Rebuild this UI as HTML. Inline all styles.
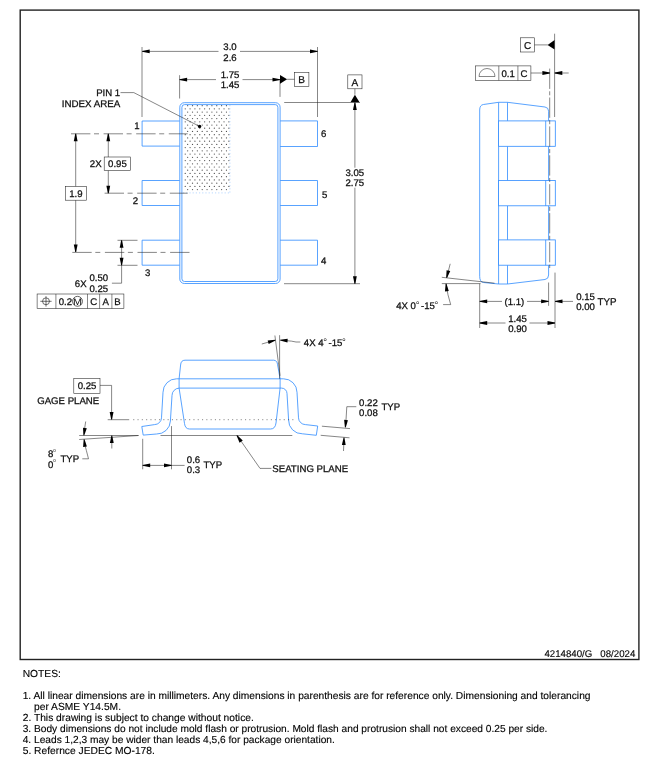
<!DOCTYPE html>
<html><head><meta charset="utf-8"><title>Package outline</title>
<style>html,body{margin:0;padding:0;background:#fff}svg{display:block;will-change:transform}text{font-family:"Liberation Sans", Arial, sans-serif;fill:#111;stroke:#111;stroke-width:0.27px;text-rendering:geometricPrecision}text.n{fill:#000;stroke:#000;stroke-width:0.12px}</style>
</head><body>
<svg width="650" height="768" viewBox="0 0 650 768">
<rect x="0" y="0" width="650" height="768" fill="#fff"/>
<rect x="20.20" y="10.10" width="618.70" height="649.40" rx="0" stroke="#222" stroke-width="1.4" fill="none"/>
<g fill="#505050"><circle cx="187.66" cy="105.63" r="0.62"/><circle cx="192.51" cy="105.63" r="0.62"/><circle cx="197.36" cy="105.63" r="0.62"/><circle cx="202.21" cy="105.63" r="0.62"/><circle cx="207.06" cy="105.63" r="0.62"/><circle cx="211.91" cy="105.63" r="0.62"/><circle cx="216.76" cy="105.63" r="0.62"/><circle cx="221.61" cy="105.63" r="0.62"/><circle cx="226.46" cy="105.63" r="0.62"/><circle cx="185.23" cy="108.86" r="0.62"/><circle cx="190.08" cy="108.86" r="0.62"/><circle cx="194.93" cy="108.86" r="0.62"/><circle cx="199.78" cy="108.86" r="0.62"/><circle cx="204.63" cy="108.86" r="0.62"/><circle cx="209.48" cy="108.86" r="0.62"/><circle cx="214.33" cy="108.86" r="0.62"/><circle cx="219.18" cy="108.86" r="0.62"/><circle cx="224.03" cy="108.86" r="0.62"/><circle cx="228.88" cy="108.86" r="0.62"/><circle cx="187.66" cy="112.09" r="0.62"/><circle cx="192.51" cy="112.09" r="0.62"/><circle cx="197.36" cy="112.09" r="0.62"/><circle cx="202.21" cy="112.09" r="0.62"/><circle cx="207.06" cy="112.09" r="0.62"/><circle cx="211.91" cy="112.09" r="0.62"/><circle cx="216.76" cy="112.09" r="0.62"/><circle cx="221.61" cy="112.09" r="0.62"/><circle cx="226.46" cy="112.09" r="0.62"/><circle cx="185.23" cy="115.32" r="0.62"/><circle cx="190.08" cy="115.32" r="0.62"/><circle cx="194.93" cy="115.32" r="0.62"/><circle cx="199.78" cy="115.32" r="0.62"/><circle cx="204.63" cy="115.32" r="0.62"/><circle cx="209.48" cy="115.32" r="0.62"/><circle cx="214.33" cy="115.32" r="0.62"/><circle cx="219.18" cy="115.32" r="0.62"/><circle cx="224.03" cy="115.32" r="0.62"/><circle cx="228.88" cy="115.32" r="0.62"/><circle cx="187.66" cy="118.55" r="0.62"/><circle cx="192.51" cy="118.55" r="0.62"/><circle cx="197.36" cy="118.55" r="0.62"/><circle cx="202.21" cy="118.55" r="0.62"/><circle cx="207.06" cy="118.55" r="0.62"/><circle cx="211.91" cy="118.55" r="0.62"/><circle cx="216.76" cy="118.55" r="0.62"/><circle cx="221.61" cy="118.55" r="0.62"/><circle cx="226.46" cy="118.55" r="0.62"/><circle cx="185.23" cy="121.78" r="0.62"/><circle cx="190.08" cy="121.78" r="0.62"/><circle cx="194.93" cy="121.78" r="0.62"/><circle cx="199.78" cy="121.78" r="0.62"/><circle cx="204.63" cy="121.78" r="0.62"/><circle cx="209.48" cy="121.78" r="0.62"/><circle cx="214.33" cy="121.78" r="0.62"/><circle cx="219.18" cy="121.78" r="0.62"/><circle cx="224.03" cy="121.78" r="0.62"/><circle cx="228.88" cy="121.78" r="0.62"/><circle cx="187.66" cy="125.01" r="0.62"/><circle cx="192.51" cy="125.01" r="0.62"/><circle cx="197.36" cy="125.01" r="0.62"/><circle cx="202.21" cy="125.01" r="0.62"/><circle cx="207.06" cy="125.01" r="0.62"/><circle cx="211.91" cy="125.01" r="0.62"/><circle cx="216.76" cy="125.01" r="0.62"/><circle cx="221.61" cy="125.01" r="0.62"/><circle cx="226.46" cy="125.01" r="0.62"/><circle cx="185.23" cy="128.24" r="0.62"/><circle cx="190.08" cy="128.24" r="0.62"/><circle cx="194.93" cy="128.24" r="0.62"/><circle cx="199.78" cy="128.24" r="0.62"/><circle cx="204.63" cy="128.24" r="0.62"/><circle cx="209.48" cy="128.24" r="0.62"/><circle cx="214.33" cy="128.24" r="0.62"/><circle cx="219.18" cy="128.24" r="0.62"/><circle cx="224.03" cy="128.24" r="0.62"/><circle cx="228.88" cy="128.24" r="0.62"/><circle cx="187.66" cy="131.47" r="0.62"/><circle cx="192.51" cy="131.47" r="0.62"/><circle cx="197.36" cy="131.47" r="0.62"/><circle cx="202.21" cy="131.47" r="0.62"/><circle cx="207.06" cy="131.47" r="0.62"/><circle cx="211.91" cy="131.47" r="0.62"/><circle cx="216.76" cy="131.47" r="0.62"/><circle cx="221.61" cy="131.47" r="0.62"/><circle cx="226.46" cy="131.47" r="0.62"/><circle cx="185.23" cy="134.70" r="0.62"/><circle cx="190.08" cy="134.70" r="0.62"/><circle cx="194.93" cy="134.70" r="0.62"/><circle cx="199.78" cy="134.70" r="0.62"/><circle cx="204.63" cy="134.70" r="0.62"/><circle cx="209.48" cy="134.70" r="0.62"/><circle cx="214.33" cy="134.70" r="0.62"/><circle cx="219.18" cy="134.70" r="0.62"/><circle cx="224.03" cy="134.70" r="0.62"/><circle cx="228.88" cy="134.70" r="0.62"/><circle cx="187.66" cy="137.93" r="0.62"/><circle cx="192.51" cy="137.93" r="0.62"/><circle cx="197.36" cy="137.93" r="0.62"/><circle cx="202.21" cy="137.93" r="0.62"/><circle cx="207.06" cy="137.93" r="0.62"/><circle cx="211.91" cy="137.93" r="0.62"/><circle cx="216.76" cy="137.93" r="0.62"/><circle cx="221.61" cy="137.93" r="0.62"/><circle cx="226.46" cy="137.93" r="0.62"/><circle cx="185.23" cy="141.16" r="0.62"/><circle cx="190.08" cy="141.16" r="0.62"/><circle cx="194.93" cy="141.16" r="0.62"/><circle cx="199.78" cy="141.16" r="0.62"/><circle cx="204.63" cy="141.16" r="0.62"/><circle cx="209.48" cy="141.16" r="0.62"/><circle cx="214.33" cy="141.16" r="0.62"/><circle cx="219.18" cy="141.16" r="0.62"/><circle cx="224.03" cy="141.16" r="0.62"/><circle cx="228.88" cy="141.16" r="0.62"/><circle cx="187.66" cy="144.39" r="0.62"/><circle cx="192.51" cy="144.39" r="0.62"/><circle cx="197.36" cy="144.39" r="0.62"/><circle cx="202.21" cy="144.39" r="0.62"/><circle cx="207.06" cy="144.39" r="0.62"/><circle cx="211.91" cy="144.39" r="0.62"/><circle cx="216.76" cy="144.39" r="0.62"/><circle cx="221.61" cy="144.39" r="0.62"/><circle cx="226.46" cy="144.39" r="0.62"/><circle cx="185.23" cy="147.62" r="0.62"/><circle cx="190.08" cy="147.62" r="0.62"/><circle cx="194.93" cy="147.62" r="0.62"/><circle cx="199.78" cy="147.62" r="0.62"/><circle cx="204.63" cy="147.62" r="0.62"/><circle cx="209.48" cy="147.62" r="0.62"/><circle cx="214.33" cy="147.62" r="0.62"/><circle cx="219.18" cy="147.62" r="0.62"/><circle cx="224.03" cy="147.62" r="0.62"/><circle cx="228.88" cy="147.62" r="0.62"/><circle cx="187.66" cy="150.85" r="0.62"/><circle cx="192.51" cy="150.85" r="0.62"/><circle cx="197.36" cy="150.85" r="0.62"/><circle cx="202.21" cy="150.85" r="0.62"/><circle cx="207.06" cy="150.85" r="0.62"/><circle cx="211.91" cy="150.85" r="0.62"/><circle cx="216.76" cy="150.85" r="0.62"/><circle cx="221.61" cy="150.85" r="0.62"/><circle cx="226.46" cy="150.85" r="0.62"/><circle cx="185.23" cy="154.08" r="0.62"/><circle cx="190.08" cy="154.08" r="0.62"/><circle cx="194.93" cy="154.08" r="0.62"/><circle cx="199.78" cy="154.08" r="0.62"/><circle cx="204.63" cy="154.08" r="0.62"/><circle cx="209.48" cy="154.08" r="0.62"/><circle cx="214.33" cy="154.08" r="0.62"/><circle cx="219.18" cy="154.08" r="0.62"/><circle cx="224.03" cy="154.08" r="0.62"/><circle cx="228.88" cy="154.08" r="0.62"/><circle cx="187.66" cy="157.31" r="0.62"/><circle cx="192.51" cy="157.31" r="0.62"/><circle cx="197.36" cy="157.31" r="0.62"/><circle cx="202.21" cy="157.31" r="0.62"/><circle cx="207.06" cy="157.31" r="0.62"/><circle cx="211.91" cy="157.31" r="0.62"/><circle cx="216.76" cy="157.31" r="0.62"/><circle cx="221.61" cy="157.31" r="0.62"/><circle cx="226.46" cy="157.31" r="0.62"/><circle cx="185.23" cy="160.54" r="0.62"/><circle cx="190.08" cy="160.54" r="0.62"/><circle cx="194.93" cy="160.54" r="0.62"/><circle cx="199.78" cy="160.54" r="0.62"/><circle cx="204.63" cy="160.54" r="0.62"/><circle cx="209.48" cy="160.54" r="0.62"/><circle cx="214.33" cy="160.54" r="0.62"/><circle cx="219.18" cy="160.54" r="0.62"/><circle cx="224.03" cy="160.54" r="0.62"/><circle cx="228.88" cy="160.54" r="0.62"/><circle cx="187.66" cy="163.77" r="0.62"/><circle cx="192.51" cy="163.77" r="0.62"/><circle cx="197.36" cy="163.77" r="0.62"/><circle cx="202.21" cy="163.77" r="0.62"/><circle cx="207.06" cy="163.77" r="0.62"/><circle cx="211.91" cy="163.77" r="0.62"/><circle cx="216.76" cy="163.77" r="0.62"/><circle cx="221.61" cy="163.77" r="0.62"/><circle cx="226.46" cy="163.77" r="0.62"/><circle cx="185.23" cy="167.00" r="0.62"/><circle cx="190.08" cy="167.00" r="0.62"/><circle cx="194.93" cy="167.00" r="0.62"/><circle cx="199.78" cy="167.00" r="0.62"/><circle cx="204.63" cy="167.00" r="0.62"/><circle cx="209.48" cy="167.00" r="0.62"/><circle cx="214.33" cy="167.00" r="0.62"/><circle cx="219.18" cy="167.00" r="0.62"/><circle cx="224.03" cy="167.00" r="0.62"/><circle cx="228.88" cy="167.00" r="0.62"/><circle cx="187.66" cy="170.23" r="0.62"/><circle cx="192.51" cy="170.23" r="0.62"/><circle cx="197.36" cy="170.23" r="0.62"/><circle cx="202.21" cy="170.23" r="0.62"/><circle cx="207.06" cy="170.23" r="0.62"/><circle cx="211.91" cy="170.23" r="0.62"/><circle cx="216.76" cy="170.23" r="0.62"/><circle cx="221.61" cy="170.23" r="0.62"/><circle cx="226.46" cy="170.23" r="0.62"/><circle cx="185.23" cy="173.46" r="0.62"/><circle cx="190.08" cy="173.46" r="0.62"/><circle cx="194.93" cy="173.46" r="0.62"/><circle cx="199.78" cy="173.46" r="0.62"/><circle cx="204.63" cy="173.46" r="0.62"/><circle cx="209.48" cy="173.46" r="0.62"/><circle cx="214.33" cy="173.46" r="0.62"/><circle cx="219.18" cy="173.46" r="0.62"/><circle cx="224.03" cy="173.46" r="0.62"/><circle cx="228.88" cy="173.46" r="0.62"/><circle cx="187.66" cy="176.69" r="0.62"/><circle cx="192.51" cy="176.69" r="0.62"/><circle cx="197.36" cy="176.69" r="0.62"/><circle cx="202.21" cy="176.69" r="0.62"/><circle cx="207.06" cy="176.69" r="0.62"/><circle cx="211.91" cy="176.69" r="0.62"/><circle cx="216.76" cy="176.69" r="0.62"/><circle cx="221.61" cy="176.69" r="0.62"/><circle cx="226.46" cy="176.69" r="0.62"/><circle cx="185.23" cy="179.92" r="0.62"/><circle cx="190.08" cy="179.92" r="0.62"/><circle cx="194.93" cy="179.92" r="0.62"/><circle cx="199.78" cy="179.92" r="0.62"/><circle cx="204.63" cy="179.92" r="0.62"/><circle cx="209.48" cy="179.92" r="0.62"/><circle cx="214.33" cy="179.92" r="0.62"/><circle cx="219.18" cy="179.92" r="0.62"/><circle cx="224.03" cy="179.92" r="0.62"/><circle cx="228.88" cy="179.92" r="0.62"/><circle cx="187.66" cy="183.15" r="0.62"/><circle cx="192.51" cy="183.15" r="0.62"/><circle cx="197.36" cy="183.15" r="0.62"/><circle cx="202.21" cy="183.15" r="0.62"/><circle cx="207.06" cy="183.15" r="0.62"/><circle cx="211.91" cy="183.15" r="0.62"/><circle cx="216.76" cy="183.15" r="0.62"/><circle cx="221.61" cy="183.15" r="0.62"/><circle cx="226.46" cy="183.15" r="0.62"/><circle cx="185.23" cy="186.38" r="0.62"/><circle cx="190.08" cy="186.38" r="0.62"/><circle cx="194.93" cy="186.38" r="0.62"/><circle cx="199.78" cy="186.38" r="0.62"/><circle cx="204.63" cy="186.38" r="0.62"/><circle cx="209.48" cy="186.38" r="0.62"/><circle cx="214.33" cy="186.38" r="0.62"/><circle cx="219.18" cy="186.38" r="0.62"/><circle cx="224.03" cy="186.38" r="0.62"/><circle cx="228.88" cy="186.38" r="0.62"/><circle cx="187.66" cy="189.61" r="0.62"/><circle cx="192.51" cy="189.61" r="0.62"/><circle cx="197.36" cy="189.61" r="0.62"/><circle cx="202.21" cy="189.61" r="0.62"/><circle cx="207.06" cy="189.61" r="0.62"/><circle cx="211.91" cy="189.61" r="0.62"/><circle cx="216.76" cy="189.61" r="0.62"/><circle cx="221.61" cy="189.61" r="0.62"/><circle cx="226.46" cy="189.61" r="0.62"/></g>
<line x1="229.90" y1="105.00" x2="229.90" y2="193.00" stroke="#9cc8ff" stroke-width="0.7" stroke-dasharray="1.2 2"/>
<line x1="183.00" y1="192.90" x2="229.90" y2="192.90" stroke="#9cc8ff" stroke-width="0.7" stroke-dasharray="1.2 2"/>
<path d="M179.6,121.0 L142.1,121.0 L142.1,146.1 L179.6,146.1" stroke="#2e8bff" stroke-width="0.8" fill="none" />
<path d="M179.6,180.5 L142.1,180.5 L142.1,205.5 L179.6,205.5" stroke="#2e8bff" stroke-width="0.8" fill="none" />
<path d="M179.6,240.2 L142.1,240.2 L142.1,265.2 L179.6,265.2" stroke="#2e8bff" stroke-width="0.8" fill="none" />
<path d="M280.2,120.9 L317.5,120.9 L317.5,146.5 L280.2,146.5" stroke="#2e8bff" stroke-width="0.8" fill="none" />
<path d="M280.2,180.5 L317.5,180.5 L317.5,205.5 L280.2,205.5" stroke="#2e8bff" stroke-width="0.8" fill="none" />
<path d="M280.2,240.2 L317.5,240.2 L317.5,265.2 L280.2,265.2" stroke="#2e8bff" stroke-width="0.8" fill="none" />
<rect x="179.80" y="102.70" width="100.30" height="180.80" rx="4.5" stroke="#2e8bff" stroke-width="0.8" fill="none"/>
<rect x="181.90" y="104.60" width="96.00" height="176.90" rx="2.7" stroke="#2e8bff" stroke-width="0.8" fill="none"/>
<line x1="142.00" y1="47.00" x2="142.00" y2="117.00" stroke="#222" stroke-width="0.55" />
<line x1="317.50" y1="47.00" x2="317.50" y2="117.00" stroke="#222" stroke-width="0.55" />
<line x1="142.20" y1="51.40" x2="218.50" y2="51.40" stroke="#222" stroke-width="0.55" />
<line x1="240.00" y1="51.40" x2="317.80" y2="51.40" stroke="#222" stroke-width="0.55" />
<polygon points="142.20,50.98 149.70,49.50 149.70,53.30 142.20,51.82" fill="#000"/>
<polygon points="317.50,51.82 310.00,53.30 310.00,49.50 317.50,50.98" fill="#000"/>
<text x="230.00" y="49.90" font-size="9.6" text-anchor="middle" >3.0</text>
<text x="230.00" y="60.70" font-size="9.6" text-anchor="middle" >2.6</text>
<line x1="179.60" y1="75.20" x2="179.60" y2="98.50" stroke="#222" stroke-width="0.55" />
<line x1="280.00" y1="80.00" x2="280.00" y2="96.90" stroke="#222" stroke-width="0.55" />
<line x1="179.60" y1="79.60" x2="216.00" y2="79.60" stroke="#222" stroke-width="0.55" />
<line x1="242.50" y1="79.60" x2="280.00" y2="79.60" stroke="#222" stroke-width="0.55" />
<polygon points="179.60,79.18 187.10,77.70 187.10,81.50 179.60,80.02" fill="#000"/>
<polygon points="280.00,80.02 272.50,81.50 272.50,77.70 280.00,79.18" fill="#000"/>
<polygon points="280.00,74.90 280.00,83.70 287.10,79.30" fill="#000"/>
<line x1="287.10" y1="79.30" x2="294.50" y2="79.30" stroke="#222" stroke-width="0.55" />
<rect x="294.50" y="72.40" width="14.40" height="14.30" rx="0" stroke="#222" stroke-width="0.55" fill="none"/>
<text x="301.70" y="83.10" font-size="10" text-anchor="middle" >B</text>
<text x="230.00" y="77.60" font-size="9.6" text-anchor="middle" >1.75</text>
<text x="230.00" y="87.80" font-size="9.6" text-anchor="middle" >1.45</text>
<rect x="347.80" y="74.90" width="14.20" height="13.90" rx="0" stroke="#222" stroke-width="0.55" fill="none"/>
<text x="354.90" y="85.50" font-size="10" text-anchor="middle" >A</text>
<line x1="354.90" y1="88.80" x2="354.90" y2="94.70" stroke="#222" stroke-width="0.55" />
<polygon points="354.90,94.70 350.50,102.30 359.50,102.30" fill="#000"/>
<line x1="284.20" y1="102.50" x2="360.00" y2="102.50" stroke="#222" stroke-width="0.55" />
<line x1="284.00" y1="283.70" x2="360.00" y2="283.70" stroke="#222" stroke-width="0.55" />
<line x1="354.90" y1="102.60" x2="354.90" y2="167.70" stroke="#222" stroke-width="0.55" />
<line x1="354.90" y1="187.70" x2="354.90" y2="283.70" stroke="#222" stroke-width="0.55" />
<polygon points="355.32,102.60 356.80,110.10 353.00,110.10 354.48,102.60" fill="#000"/>
<polygon points="354.48,283.70 353.00,276.20 356.80,276.20 355.32,283.70" fill="#000"/>
<text x="354.80" y="176.00" font-size="9.6" text-anchor="middle" >3.05</text>
<text x="354.80" y="186.20" font-size="9.6" text-anchor="middle" >2.75</text>
<text x="137.00" y="129.00" font-size="9.6" text-anchor="middle" >1</text>
<text x="135.40" y="204.40" font-size="9.6" text-anchor="middle" >2</text>
<text x="147.70" y="276.40" font-size="9.6" text-anchor="middle" >3</text>
<text x="323.70" y="137.20" font-size="9.6" text-anchor="middle" >6</text>
<text x="324.60" y="197.90" font-size="9.6" text-anchor="middle" >5</text>
<text x="323.70" y="264.40" font-size="9.6" text-anchor="middle" >4</text>
<text x="120.20" y="95.50" font-size="9.6" text-anchor="end" >PIN 1</text>
<text x="120.30" y="106.80" font-size="9.6" text-anchor="end"  textLength="58.6" lengthAdjust="spacingAndGlyphs">INDEX AREA</text>
<path d="M120.5,92.6 L133.8,92.6 L199.5,126.4" stroke="#222" stroke-width="0.55" fill="none" />
<circle cx="199.6" cy="126.4" r="1.7" fill="#000"/>
<line x1="71.00" y1="133.80" x2="187.70" y2="133.80" stroke="#222" stroke-width="0.55" stroke-dasharray="19.4 3.6 5 4.6"/>
<line x1="104.60" y1="193.20" x2="187.70" y2="193.20" stroke="#222" stroke-width="0.55" stroke-dasharray="19.4 3.6 5 4.6"/>
<line x1="72.30" y1="252.40" x2="190.00" y2="252.40" stroke="#222" stroke-width="0.55" stroke-dasharray="19.4 3.6 5 4.6"/>
<line x1="75.70" y1="133.80" x2="75.70" y2="186.30" stroke="#222" stroke-width="0.55" />
<line x1="75.70" y1="200.20" x2="75.70" y2="252.00" stroke="#222" stroke-width="0.55" />
<polygon points="76.12,133.80 77.60,141.30 73.80,141.30 75.28,133.80" fill="#000"/>
<polygon points="75.28,252.00 73.80,244.50 77.60,244.50 76.12,252.00" fill="#000"/>
<rect x="65.40" y="186.30" width="21.10" height="13.90" rx="0" stroke="#222" stroke-width="0.55" fill="none"/>
<text x="75.90" y="196.90" font-size="9.6" text-anchor="middle" >1.9</text>
<line x1="108.30" y1="133.80" x2="108.30" y2="157.00" stroke="#222" stroke-width="0.55" />
<line x1="108.30" y1="170.60" x2="108.30" y2="193.20" stroke="#222" stroke-width="0.55" />
<polygon points="108.72,133.80 110.20,141.30 106.40,141.30 107.88,133.80" fill="#000"/>
<polygon points="107.88,193.20 106.40,185.70 110.20,185.70 108.72,193.20" fill="#000"/>
<rect x="104.20" y="157.00" width="26.40" height="13.60" rx="0" stroke="#222" stroke-width="0.55" fill="none"/>
<text x="117.40" y="167.20" font-size="9.6" text-anchor="middle" >0.95</text>
<text x="95.70" y="167.40" font-size="9.6" text-anchor="middle" >2X</text>
<line x1="117.50" y1="240.30" x2="137.50" y2="240.30" stroke="#222" stroke-width="0.55" />
<line x1="117.50" y1="265.30" x2="137.50" y2="265.30" stroke="#222" stroke-width="0.55" />
<path d="M121.6,240.3 L121.6,283.2 L111.9,283.2" stroke="#222" stroke-width="0.55" fill="none" />
<polygon points="122.02,240.30 123.50,247.80 119.70,247.80 121.18,240.30" fill="#000"/>
<polygon points="121.18,265.30 119.70,257.80 123.50,257.80 122.02,265.30" fill="#000"/>
<text x="80.70" y="287.00" font-size="9.6" text-anchor="middle" >6X</text>
<text x="98.80" y="281.40" font-size="9.6" text-anchor="middle" >0.50</text>
<text x="98.80" y="291.90" font-size="9.6" text-anchor="middle" >0.25</text>
<rect x="37.10" y="294.00" width="86.80" height="14.60" rx="0" stroke="#222" stroke-width="0.55" fill="none"/>
<line x1="55.90" y1="294.00" x2="55.90" y2="308.60" stroke="#222" stroke-width="0.55" />
<line x1="87.50" y1="294.00" x2="87.50" y2="308.60" stroke="#222" stroke-width="0.55" />
<line x1="99.60" y1="294.00" x2="99.60" y2="308.60" stroke="#222" stroke-width="0.55" />
<line x1="111.90" y1="294.00" x2="111.90" y2="308.60" stroke="#222" stroke-width="0.55" />
<circle cx="46.0" cy="301.3" r="3.45" fill="none" stroke="#222" stroke-width="0.65"/>
<line x1="40.30" y1="301.30" x2="51.60" y2="301.30" stroke="#222" stroke-width="0.65" />
<line x1="46.00" y1="296.20" x2="46.00" y2="306.60" stroke="#222" stroke-width="0.65" />
<text x="65.30" y="304.70" font-size="9.6" text-anchor="middle" >0.2</text>
<circle cx="77.5" cy="301.3" r="4.95" fill="none" stroke="#222" stroke-width="0.7"/>
<text x="77.50" y="304.60" font-size="9.4" text-anchor="middle" style="stroke:none" textLength="9.0" lengthAdjust="spacingAndGlyphs">M</text>
<text x="93.70" y="304.70" font-size="9.6" text-anchor="middle" >C</text>
<text x="105.60" y="304.70" font-size="9.6" text-anchor="middle" >A</text>
<text x="117.50" y="304.70" font-size="9.6" text-anchor="middle" >B</text>
<path d="M479.7,276.3 L479.7,110 Q479.7,105 483.4,104.5 L498.6,102.3 L507.5,102.3 L545,107 Q548.6,107.5 548.6,111.2 L548.6,275 Q548.6,279 545,279.5 L507.5,284 L498.6,284 L483.4,282.5 Q479.7,282 479.7,276.3 Z" stroke="#2e8bff" stroke-width="0.8" fill="none" />
<line x1="498.60" y1="102.30" x2="498.60" y2="284.00" stroke="#2e8bff" stroke-width="0.8" />
<line x1="507.50" y1="102.30" x2="507.50" y2="120.90" stroke="#2e8bff" stroke-width="0.8" />
<line x1="507.50" y1="146.30" x2="507.50" y2="180.50" stroke="#2e8bff" stroke-width="0.8" />
<line x1="507.50" y1="205.80" x2="507.50" y2="239.90" stroke="#2e8bff" stroke-width="0.8" />
<line x1="507.50" y1="265.20" x2="507.50" y2="284.00" stroke="#2e8bff" stroke-width="0.8" />
<rect x="498.60" y="120.90" width="56.70" height="25.40" rx="0" stroke="#2e8bff" stroke-width="0.8" fill="#fff"/>
<line x1="545.70" y1="120.90" x2="545.70" y2="146.30" stroke="#2e8bff" stroke-width="0.8" />
<rect x="498.60" y="180.50" width="56.70" height="25.30" rx="0" stroke="#2e8bff" stroke-width="0.8" fill="#fff"/>
<line x1="545.70" y1="180.50" x2="545.70" y2="205.80" stroke="#2e8bff" stroke-width="0.8" />
<rect x="498.60" y="239.90" width="56.70" height="25.30" rx="0" stroke="#2e8bff" stroke-width="0.8" fill="#fff"/>
<line x1="545.70" y1="239.90" x2="545.70" y2="265.20" stroke="#2e8bff" stroke-width="0.8" />
<rect x="520.60" y="37.80" width="13.90" height="14.20" rx="0" stroke="#222" stroke-width="0.55" fill="none"/>
<text x="527.60" y="48.50" font-size="10" text-anchor="middle" >C</text>
<line x1="534.50" y1="44.90" x2="547.80" y2="44.90" stroke="#222" stroke-width="0.55" />
<polygon points="547.60,44.90 554.60,40.00 554.60,49.40" fill="#000"/>
<line x1="554.60" y1="33.70" x2="554.60" y2="117.00" stroke="#222" stroke-width="0.55" />
<line x1="549.70" y1="68.60" x2="549.70" y2="268.00" stroke="#222" stroke-width="0.55" stroke-dasharray="20.3 2.4 4 2.2"/>
<rect x="475.60" y="65.90" width="55.30" height="14.50" rx="0" stroke="#222" stroke-width="0.55" fill="none"/>
<line x1="498.80" y1="65.90" x2="498.80" y2="80.40" stroke="#222" stroke-width="0.55" />
<line x1="517.90" y1="65.90" x2="517.90" y2="80.40" stroke="#222" stroke-width="0.55" />
<path d="M479,76.5 A8,8 0 0 1 495,76.5 Z" stroke="#222" stroke-width="0.55" fill="none" />
<text x="508.10" y="76.60" font-size="9.6" text-anchor="middle" >0.1</text>
<text x="524.00" y="76.60" font-size="9.6" text-anchor="middle" >C</text>
<line x1="530.90" y1="73.00" x2="549.50" y2="73.00" stroke="#222" stroke-width="0.55" />
<polygon points="549.90,73.42 542.40,74.90 542.40,71.10 549.90,72.58" fill="#000"/>
<line x1="554.60" y1="73.00" x2="568.70" y2="73.00" stroke="#222" stroke-width="0.55" />
<polygon points="554.80,72.58 562.30,71.10 562.30,74.90 554.80,73.42" fill="#000"/>
<line x1="479.70" y1="283.70" x2="479.70" y2="328.00" stroke="#222" stroke-width="0.55" />
<line x1="548.60" y1="282.50" x2="548.60" y2="305.80" stroke="#222" stroke-width="0.55" />
<line x1="555.00" y1="272.60" x2="555.00" y2="328.00" stroke="#222" stroke-width="0.55" />
<line x1="479.70" y1="301.40" x2="502.00" y2="301.40" stroke="#222" stroke-width="0.55" />
<line x1="527.00" y1="301.40" x2="548.60" y2="301.40" stroke="#222" stroke-width="0.55" />
<polygon points="479.70,300.98 487.20,299.50 487.20,303.30 479.70,301.82" fill="#000"/>
<polygon points="548.60,301.82 541.10,303.30 541.10,299.50 548.60,300.98" fill="#000"/>
<text x="514.40" y="304.80" font-size="9.6" text-anchor="middle" >(1.1)</text>
<line x1="555.00" y1="301.40" x2="573.00" y2="301.40" stroke="#222" stroke-width="0.55" />
<polygon points="555.00,300.98 562.50,299.50 562.50,303.30 555.00,301.82" fill="#000"/>
<text x="585.50" y="299.60" font-size="9.6" text-anchor="middle" >0.15</text>
<text x="585.50" y="310.00" font-size="9.6" text-anchor="middle" >0.00</text>
<text x="607.10" y="305.10" font-size="9.8" text-anchor="middle" >TYP</text>
<line x1="479.70" y1="323.00" x2="505.50" y2="323.00" stroke="#222" stroke-width="0.55" />
<line x1="529.50" y1="323.00" x2="555.00" y2="323.00" stroke="#222" stroke-width="0.55" />
<polygon points="479.70,322.58 487.20,321.10 487.20,324.90 479.70,323.42" fill="#000"/>
<polygon points="555.00,323.42 547.50,324.90 547.50,321.10 555.00,322.58" fill="#000"/>
<text x="517.60" y="322.00" font-size="9.6" text-anchor="middle" >1.45</text>
<text x="517.60" y="331.90" font-size="9.6" text-anchor="middle" >0.90</text>
<line x1="441.80" y1="277.30" x2="494.50" y2="283.20" stroke="#222" stroke-width="0.55" />
<line x1="441.80" y1="283.60" x2="480.60" y2="283.60" stroke="#222" stroke-width="0.55" />
<line x1="450.20" y1="263.80" x2="446.80" y2="277.30" stroke="#222" stroke-width="0.55" />
<polygon points="446.19,277.80 446.58,270.16 450.26,271.08 447.01,278.00" fill="#000"/>
<path d="M446.1,283.8 Q447.5,295 450.7,304.6 L443.1,304.6" stroke="#222" stroke-width="0.55" fill="none" />
<polygon points="446.52,283.76 448.74,291.07 444.96,291.45 445.68,283.84" fill="#000"/>
<text x="396.20" y="308.50" font-size="9.6" text-anchor="start" >4X 0</text>
<text x="415.80" y="307.50" font-size="9.5" text-anchor="start" style="stroke:none">&#176;</text>
<text x="421.00" y="308.50" font-size="9.6" text-anchor="start" >-15</text>
<text x="434.40" y="307.50" font-size="9.5" text-anchor="start" style="stroke:none">&#176;</text>
<path d="M179.1,378.8 L180.6,365 Q180.9,360.2 185,360.2 L273.7,360.2 Q277.2,360.4 277.6,364.8 L280.1,378.8" stroke="#2e8bff" stroke-width="0.8" fill="none" />
<path d="M179.1,378.8 L179.1,388.1 L184.5,423.5 Q185.2,429 189.5,429 L270.6,429 Q275.2,429 276,423 L280.1,388.1 L280.1,378.8" stroke="#2e8bff" stroke-width="0.8" fill="none" />
<path d="M141.8,426.5 L154.6,424.6 A7,7 0 0 0 161.5,417.8 L163,392.3 A13.5,13.5 0 0 1 176.5,378.8 L283.5,378.8 A13.5,13.5 0 0 1 297,392.3 L298.5,417.8 A7,7 0 0 0 305.4,424.6 L317.7,426" stroke="#2e8bff" stroke-width="0.8" fill="none" />
<path d="M143.2,435.1 L156.5,434 A13.5,13.5 0 0 0 170.4,421 L172,395.5 A7.4,7.4 0 0 1 179.4,388.1 L281.6,388.1 A5.4,5.4 0 0 1 287,393.5 L288.6,420 A13.5,13.5 0 0 0 302.5,433.8 L316.3,435.3" stroke="#2e8bff" stroke-width="0.8" fill="none" />
<line x1="141.80" y1="426.50" x2="143.20" y2="435.10" stroke="#2e8bff" stroke-width="0.8" />
<line x1="317.70" y1="426.00" x2="316.30" y2="435.30" stroke="#2e8bff" stroke-width="0.8" />
<rect x="73.80" y="378.50" width="26.20" height="14.90" rx="0" stroke="#222" stroke-width="0.55" fill="none"/>
<text x="87.10" y="389.40" font-size="9.6" text-anchor="middle" >0.25</text>
<path d="M100,385.4 L111.6,385.4 L111.6,419.6" stroke="#222" stroke-width="0.55" fill="none" />
<polygon points="111.18,419.60 109.70,412.10 113.50,412.10 112.02,419.60" fill="#000"/>
<text x="37.20" y="403.60" font-size="9.6" text-anchor="start"  textLength="62" lengthAdjust="spacingAndGlyphs">GAGE PLANE</text>
<line x1="107.70" y1="419.70" x2="129.20" y2="419.70" stroke="#222" stroke-width="0.55" />
<line x1="133.20" y1="419.70" x2="296.50" y2="419.70" stroke="#222" stroke-width="0.55" stroke-dasharray="1.1 3.2"/>
<line x1="79.20" y1="435.50" x2="138.50" y2="435.50" stroke="#222" stroke-width="0.55" />
<line x1="160.50" y1="435.50" x2="292.30" y2="435.50" stroke="#222" stroke-width="0.55" />
<line x1="79.20" y1="439.50" x2="138.50" y2="435.50" stroke="#222" stroke-width="0.55" />
<line x1="111.80" y1="437.30" x2="111.80" y2="448.50" stroke="#222" stroke-width="0.55" />
<polygon points="112.22,435.60 113.70,443.10 109.90,443.10 111.38,435.60" fill="#000"/>
<line x1="85.70" y1="421.50" x2="84.40" y2="430.00" stroke="#222" stroke-width="0.55" />
<polygon points="83.38,435.34 83.03,427.70 86.79,428.26 84.22,435.46" fill="#000"/>
<path d="M82.3,458.8 L88.5,458.8 Q86,449 84.9,445" stroke="#222" stroke-width="0.55" fill="none" />
<polygon points="84.52,439.25 86.88,446.52 83.11,446.97 83.68,439.35" fill="#000"/>
<text x="48.00" y="456.50" font-size="9.6" text-anchor="start" >8</text>
<text x="48.00" y="467.70" font-size="9.6" text-anchor="start" >0</text>
<text x="52.40" y="455.60" font-size="10" text-anchor="start" style="stroke:none;fill:#555">&#176;</text>
<text x="52.40" y="465.90" font-size="10" text-anchor="start" style="stroke:none;fill:#555">&#176;</text>
<text x="60.50" y="462.30" font-size="9.6" text-anchor="start" >TYP</text>
<line x1="142.70" y1="438.80" x2="142.70" y2="469.30" stroke="#222" stroke-width="0.55" />
<line x1="171.50" y1="426.10" x2="171.50" y2="469.30" stroke="#222" stroke-width="0.55" />
<line x1="142.70" y1="465.40" x2="184.60" y2="465.40" stroke="#222" stroke-width="0.55" />
<polygon points="142.70,464.98 150.20,463.50 150.20,467.30 142.70,465.82" fill="#000"/>
<polygon points="171.50,465.82 164.00,467.30 164.00,463.50 171.50,464.98" fill="#000"/>
<text x="193.50" y="463.00" font-size="9.6" text-anchor="middle" >0.6</text>
<text x="193.50" y="473.20" font-size="9.6" text-anchor="middle" >0.3</text>
<text x="203.40" y="468.10" font-size="9.6" text-anchor="start" >TYP</text>
<path d="M236.9,435.2 L260,468.4 L271.4,468.4" stroke="#222" stroke-width="0.55" fill="none" />
<polygon points="237.24,435.16 242.74,440.47 239.62,442.64 236.56,435.64" fill="#000"/>
<text x="272.30" y="471.80" font-size="9.6" text-anchor="start"  textLength="75.9" lengthAdjust="spacingAndGlyphs">SEATING PLANE</text>
<line x1="279.60" y1="335.20" x2="279.60" y2="378.80" stroke="#222" stroke-width="0.55" />
<line x1="274.90" y1="335.50" x2="280.10" y2="375.80" stroke="#222" stroke-width="0.55" />
<line x1="261.80" y1="344.00" x2="270.00" y2="341.70" stroke="#222" stroke-width="0.55" />
<polygon points="275.51,340.60 268.69,344.05 267.67,340.39 275.29,339.80" fill="#000"/>
<path d="M286,340.6 Q292,341 296,342 L300.3,342" stroke="#222" stroke-width="0.55" fill="none" />
<polygon points="280.13,339.78 287.70,338.75 287.47,342.55 280.07,340.62" fill="#000"/>
<text x="303.80" y="345.60" font-size="9.6" text-anchor="start" >4X 4</text>
<text x="323.20" y="344.60" font-size="9.5" text-anchor="start" style="stroke:none">&#176;</text>
<text x="328.50" y="345.60" font-size="9.6" text-anchor="start" >-15</text>
<text x="341.90" y="344.60" font-size="9.5" text-anchor="start" style="stroke:none">&#176;</text>
<line x1="321.90" y1="426.20" x2="350.00" y2="428.60" stroke="#222" stroke-width="0.55" />
<line x1="320.70" y1="435.30" x2="349.50" y2="437.80" stroke="#222" stroke-width="0.55" />
<path d="M356.3,406.7 L346.8,406.7 L346,420" stroke="#222" stroke-width="0.55" fill="none" />
<polygon points="344.88,427.36 344.16,419.75 347.94,420.13 345.72,427.44" fill="#000"/>
<line x1="343.50" y1="451.00" x2="343.80" y2="444.00" stroke="#222" stroke-width="0.55" />
<polygon points="344.42,437.51 345.67,445.05 341.88,444.94 343.58,437.49" fill="#000"/>
<text x="368.40" y="405.60" font-size="9.6" text-anchor="middle" >0.22</text>
<text x="368.40" y="415.80" font-size="9.6" text-anchor="middle" >0.08</text>
<text x="381.50" y="410.20" font-size="9.6" text-anchor="start" >TYP</text>
<text x="635.30" y="656.90" font-size="9.68" text-anchor="end" class="n">4214840/G&#160;&#160;&#160;08/2024</text>
<text x="22.7" y="677.2" font-size="10.25" text-anchor="start" class="n">NOTES:</text>
<text x="22.7" y="699.0" font-size="10.225" text-anchor="start" class="n">1. All linear dimensions are in millimeters. Any dimensions in parenthesis are for reference only. Dimensioning and tolerancing</text>
<text x="34" y="710.3" font-size="10.25" text-anchor="start" class="n">per ASME Y14.5M.</text>
<text x="22.7" y="721.1" font-size="10.25" text-anchor="start" class="n">2. This drawing is subject to change without notice.</text>
<text x="22.7" y="731.9" font-size="10.185" text-anchor="start" class="n">3. Body dimensions do not include mold flash or protrusion. Mold flash and protrusion shall not exceed 0.25 per side.</text>
<text x="22.7" y="742.7" font-size="10.18" text-anchor="start" class="n">4. Leads 1,2,3 may be wider than leads 4,5,6 for package orientation.</text>
<text x="22.7" y="753.5" font-size="10.25" text-anchor="start" class="n">5. Refernce JEDEC MO-178.</text>
</svg>
</body></html>
